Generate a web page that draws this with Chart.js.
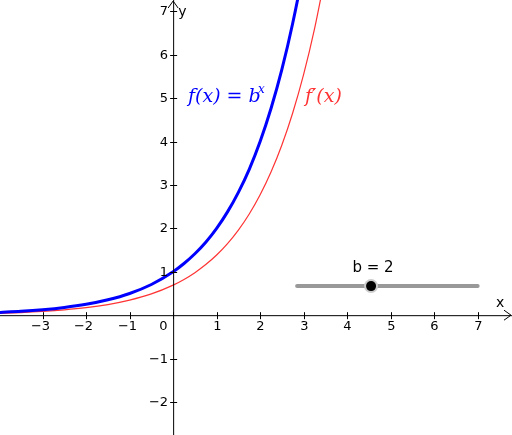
<!DOCTYPE html>
<html><head><script src="https://cdn.jsdelivr.net/npm/chart.js"></script>
<style>body{margin:0;background:#fff}#w{width:512px;height:435px}</style></head>
<body><div id="w"><canvas id="c"></canvas></div>
<script>
const xs = [-4,-3.5,-3,-2.5,-2,-1.5,-1,-0.5,0,0.25,0.5,0.75,1,1.25,1.5,1.75,2,2.25,2.5,2.75,3,3.25,3.5];
const fVals = [0.0625,0.088,0.125,0.177,0.25,0.354,0.5,0.707,1,1.19,1.414,1.68,2,2.38,2.83,3.36,4,4.76,5.66,6.73,8,9.51,11.3];
const dVals = [0.043,0.061,0.087,0.123,0.173,0.245,0.347,0.49,0.693,0.824,0.98,1.166,1.386,1.648,1.96,2.33,2.773,3.297,3.92,4.663,5.545,6.594,7.84];
const xTicks = [-3,-2,-1,0,1,2,3,4,5,6,7];
const yTicks = [-2,-1,1,2,3,4,5,6,7];
const sliderX = [2.85, 7], sliderY = 0.67, sliderVal = 4.55;
const pts = v => xs.map((x,i)=>({x, y:v[i]}));
const fmt = v => String(v).replace('-','−');
const extras = {id:'ex', afterDraw(ch){
  const c=ch.ctx, X=ch.scales.x, Y=ch.scales.y;
  const ox=X.getPixelForValue(0), oy=Y.getPixelForValue(0);
  c.save(); c.strokeStyle='#000'; c.lineWidth=1;
  c.beginPath(); c.moveTo(0,oy+0.5); c.lineTo(X.right,oy+0.5); c.moveTo(ox+0.5,0); c.lineTo(ox+0.5,Y.bottom); c.stroke();
  c.beginPath(); c.moveTo(X.right-8,oy-5); c.lineTo(X.right-1,oy); c.lineTo(X.right-8,oy+5);
  c.moveTo(ox-5,Y.top+8); c.lineTo(ox,Y.top+1); c.lineTo(ox+5,Y.top+8); c.stroke();
  c.fillStyle='#000'; c.font='13px "DejaVu Sans"';
  xTicks.forEach(v=>{const p=Math.round(X.getPixelForValue(v))+0.5;
    c.beginPath(); c.moveTo(p,oy-3); c.lineTo(p,oy+4); c.stroke();
    c.textAlign='center'; c.textBaseline='top'; c.fillText(fmt(v), v===0?p-10:p-(v<0?3:0), oy+5);});
  yTicks.forEach(v=>{const p=Math.round(Y.getPixelForValue(v))+0.5;
    c.beginPath(); c.moveTo(ox-3,p); c.lineTo(ox+4,p); c.stroke();
    c.textAlign='right'; c.textBaseline='middle'; c.fillText(fmt(v), ox-5, p);});
  c.textAlign='left'; c.textBaseline='alphabetic';
  c.font='14px "DejaVu Sans"';
  c.fillText('x', X.right-16, oy-8); c.fillText('y', ox+5, Y.top+16);
  const a=X.getPixelForValue(sliderX[0]), b=X.getPixelForValue(sliderX[1]), sy=Y.getPixelForValue(sliderY);
  c.strokeStyle='#999'; c.lineWidth=4; c.lineCap='round';
  c.beginPath(); c.moveTo(a,sy); c.lineTo(b,sy); c.stroke();
  const sx=X.getPixelForValue(sliderVal);
  c.beginPath(); c.arc(sx,sy,7,0,7); c.fillStyle='#ccc'; c.fill();
  c.beginPath(); c.arc(sx,sy,5,0,7); c.fillStyle='#000'; c.fill();
  c.font='15px "DejaVu Sans"'; c.textAlign='center'; c.fillText('b = 2', sx+2, sy-14);
  c.textAlign='left'; c.font='italic 19px "DejaVu Serif"'; c.fillStyle='#0000ff';
  c.fillText('f(x) = b', 188, 102); c.font='italic 12px "DejaVu Serif"'; c.fillText('x', 258, 93);
  c.font='italic 19px "DejaVu Serif"'; c.fillStyle='#ff3333'; c.fillText('f′(x)', 305, 102);
  c.restore();
}};
new Chart(document.getElementById('c'), {
  type:'line',
  data:{datasets:[
    {data:pts(fVals), borderColor:'#0000ff', borderWidth:3, pointRadius:0, cubicInterpolationMode:'monotone'},
    {data:pts(dVals), borderColor:'#ff3333', borderWidth:1.2, pointRadius:0, cubicInterpolationMode:'monotone'}]},
  options:{responsive:true, maintainAspectRatio:false, animation:false, layout:{padding:0},
    plugins:{legend:{display:false}, tooltip:{enabled:false}},
    scales:{
      x:{type:'linear', min:-3.98, max:7.79, display:false},
      y:{type:'linear', min:-2.76, max:7.26, display:false}}},
  plugins:[extras]
});
</script></body></html>
